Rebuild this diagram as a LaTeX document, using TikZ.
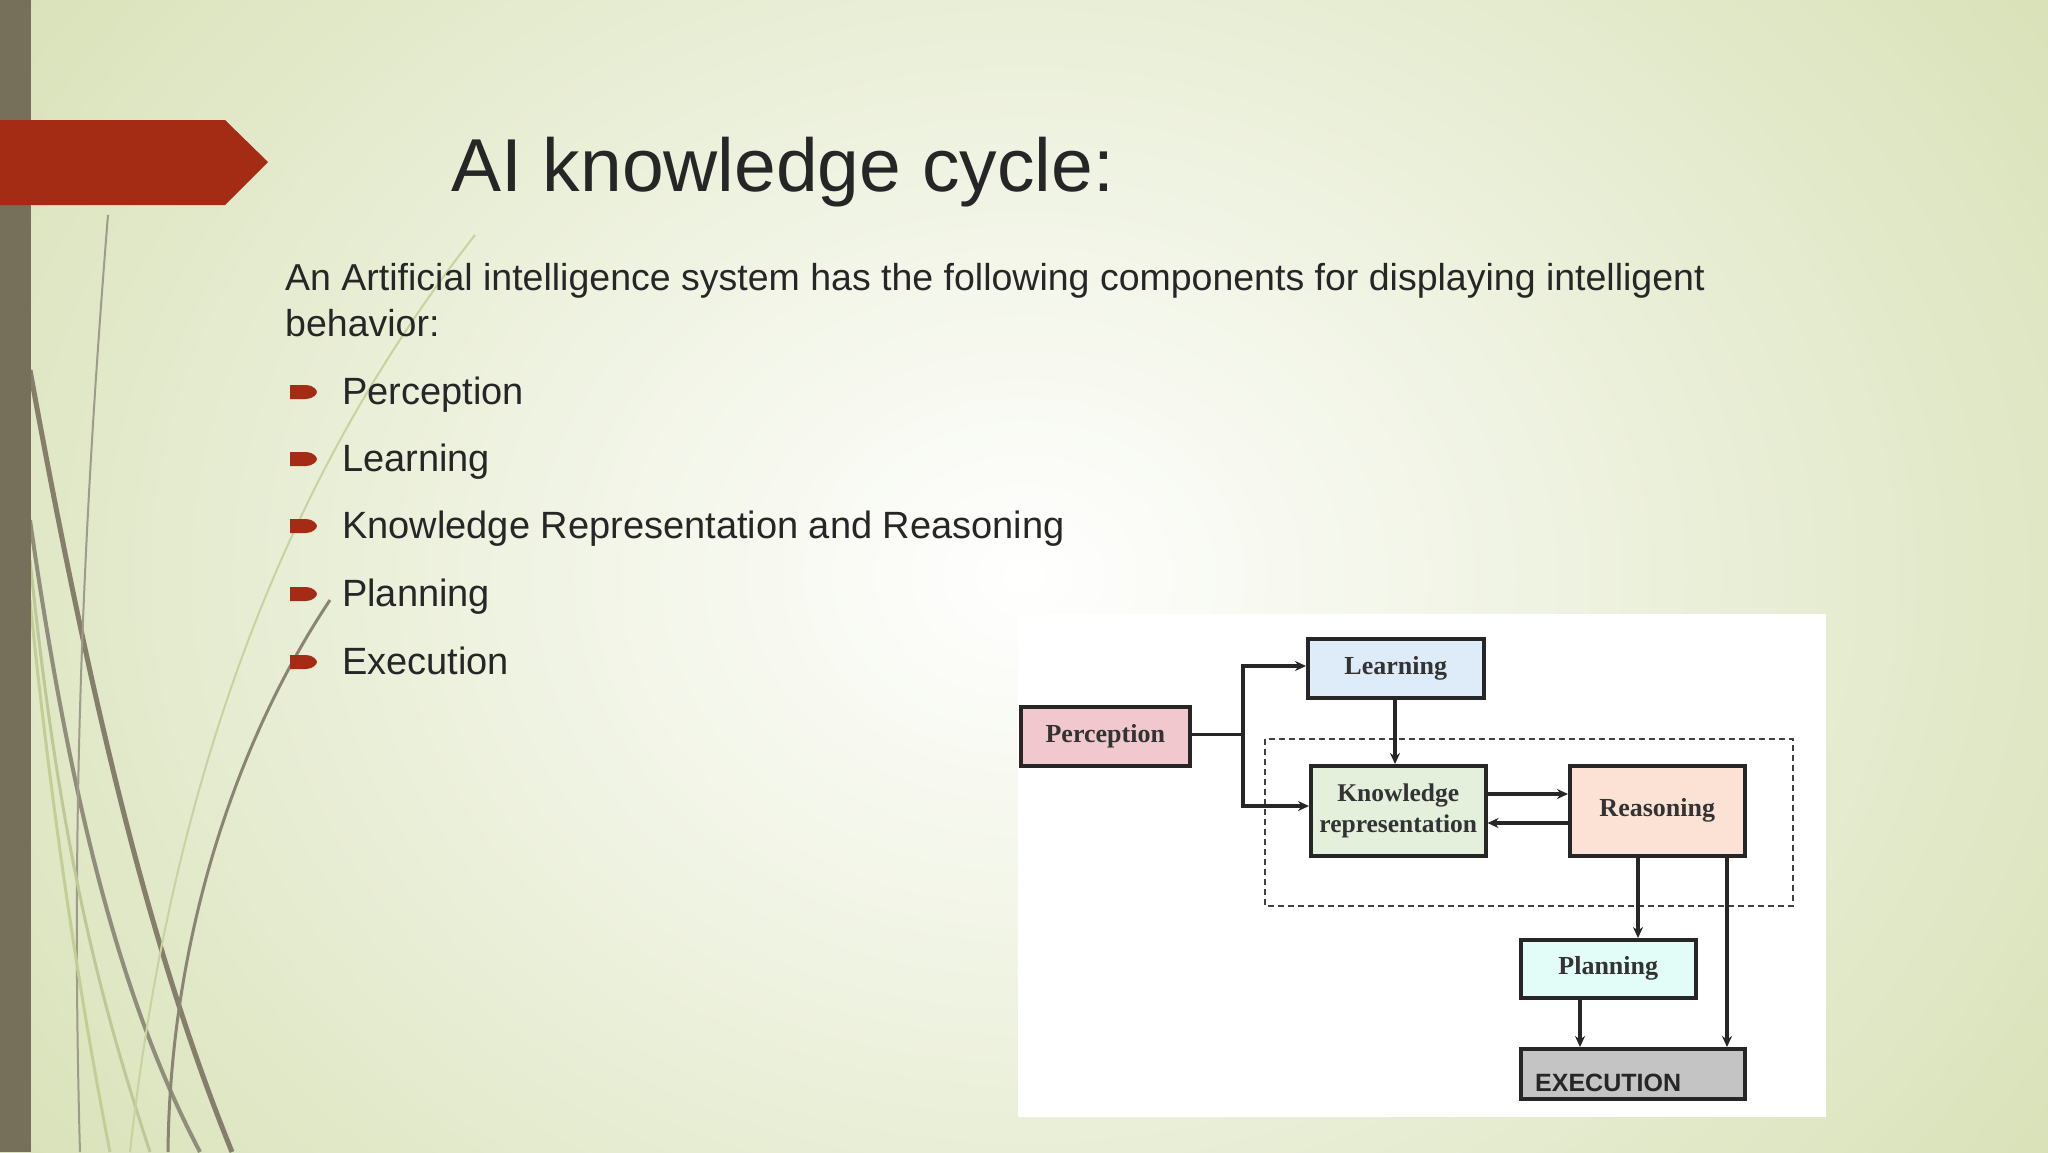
\documentclass[tikz,border=0pt]{standalone}
\usepackage{fontspec}
\setmainfont{Liberation Sans}
\newfontfamily\serifb{Liberation Serif}
\usetikzlibrary{arrows.meta}
\definecolor{txt}{HTML}{262626}
\definecolor{redc}{HTML}{A52C14}
\definecolor{barc}{HTML}{76705A}
\definecolor{bgout}{RGB}{214,224,180}
\definecolor{lg1}{RGB}{190,200,150}
\definecolor{lg2}{RGB}{200,210,160}
\definecolor{lg3}{RGB}{195,205,150}
\definecolor{cper}{RGB}{240,200,205}
\definecolor{clea}{RGB}{222,235,248}
\definecolor{ckno}{RGB}{228,240,220}
\definecolor{crea}{RGB}{252,226,212}
\definecolor{cpla}{RGB}{226,252,248}
\definecolor{cexe}{RGB}{196,196,196}
\tikzset{
 box/.style={draw=black!85,line width=3.5pt,minimum width=#1,inner sep=0pt,font=\serifb\bfseries\fontsize{26}{28}\selectfont,text=black!80},
 con/.style={line width=3.4pt,draw=black!85,-{Stealth[length=11pt,width=10pt]}},
 bul/.style={fill=redc},
}
\begin{document}
\begin{tikzpicture}[x=1pt,y=-1pt]
\useasboundingbox (0,0) rectangle (2048,1152);
\shade[inner color=white,outer color=bgout] (-300,-500) rectangle (2348,1652);
\clip (0,0) rectangle (2048,1152);
% decorative curves
\draw[barc!90,line width=5pt] (30,370) .. controls (90,700) and (150,950) .. (232,1152);
\draw[barc!80,line width=4pt] (30,520) .. controls (70,800) and (120,1000) .. (200,1152);
\draw[barc!70,line width=2pt] (108,215) .. controls (85,500) and (70,800) .. (80,1152);
\draw[lg1,line width=3pt] (30,560) .. controls (60,850) and (100,1000) .. (150,1152);
\draw[lg2,line width=2pt] (475,235) .. controls (330,420) and (180,700) .. (130,1152);
\draw[barc!85,line width=3pt] (330,600) .. controls (230,750) and (170,950) .. (168,1152);
\draw[lg3,line width=3pt] (30,600) .. controls (50,800) and (80,1000) .. (110,1152);
\fill[barc] (0,0) rectangle (31,1152);
\fill[redc] (0,120) -- (225,120) -- (268,162) -- (225,205) -- (0,205) -- cycle;
% texts
\node[anchor=base west,inner sep=0pt,text=txt,font=\fontsize{75}{80}\selectfont] (title) at (451,191) {AI knowledge cycle:};
\node[anchor=base west,inner sep=0pt,text=txt,font=\fontsize{37.5}{40}\selectfont] (p1) at (285,290) {An Artificial intelligence system has the following components for displaying intelligent};
\node[anchor=base west,inner sep=0pt,text=txt,font=\fontsize{37.5}{40}\selectfont] (p2) at (285,336) {behavior:};
\foreach \t/\y [count=\i] in {Perception/404,Learning/471,Knowledge Representation and Reasoning/538,Planning/606,Execution/674}{
 \node[anchor=base west,inner sep=0pt,text=txt,font=\fontsize{38}{40}\selectfont] (b\i) at (342,\y) {\t};
 \fill[bul] (290,\y-19) -- (306,\y-19) .. controls (313,\y-19) and (317,\y-14) .. (317,\y-12) .. controls (317,\y-10) and (313,\y-5) .. (306,\y-5) -- (290,\y-5) -- cycle;
}
% diagram panel
\fill[white] (1018,614) rectangle (1826,1117);
\draw[line width=2pt,black!75,dash pattern=on 6pt off 4pt] (1265,739) rectangle (1793,906);
\node[box=169pt,minimum height=59pt,fill=cper,anchor=north west] (per) at (1019,705) {Perception};
\node[box=176pt,minimum height=59pt,fill=clea,anchor=north west] (lea) at (1306,637) {Learning};
\node[box=175pt,minimum height=90pt,fill=ckno,anchor=north west,align=center,font=\serifb\bfseries\fontsize{25.5}{31}\selectfont] (kno) at (1309,764) {Knowledge\\representation};
\node[box=175pt,minimum height=90pt,fill=crea,anchor=north west] (rea) at (1568,764) {Reasoning};
\node[box=175pt,minimum height=58pt,fill=cpla,anchor=north west] (pla) at (1519,938) {Planning};
\node[box=224pt,minimum height=50pt,fill=cexe,anchor=north west] (exe) at (1519,1047) {};
\node[anchor=base west,inner sep=0pt,font=\bfseries\fontsize{25}{26}\selectfont,text=black!85] (exet) at (1535,1091) {EXECUTION};
\coordinate (j) at (1243,734.5);
\draw[line width=3.4pt,black!85] (per.east |- j) -- (j);
\draw[con] (j) |- (lea.west |- 0,666);
\draw[con] (j) |- (kno.west |- 0,806);
\draw[con] (lea.south -| 1395,0) -- (kno.north -| 1395,0);
\draw[con] (kno.east |- 0,794) -- (rea.west |- 0,794);
\draw[con] (rea.west |- 0,823) -- (kno.east |- 0,823);
\draw[con] (rea.south -| 1638,0) -- (pla.north -| 1638,0);
\draw[con] (rea.south -| 1727,0) -- (exe.north -| 1727,0);
\draw[con] (pla.south -| 1580,0) -- (exe.north -| 1580,0);
\end{tikzpicture}
\end{document}
